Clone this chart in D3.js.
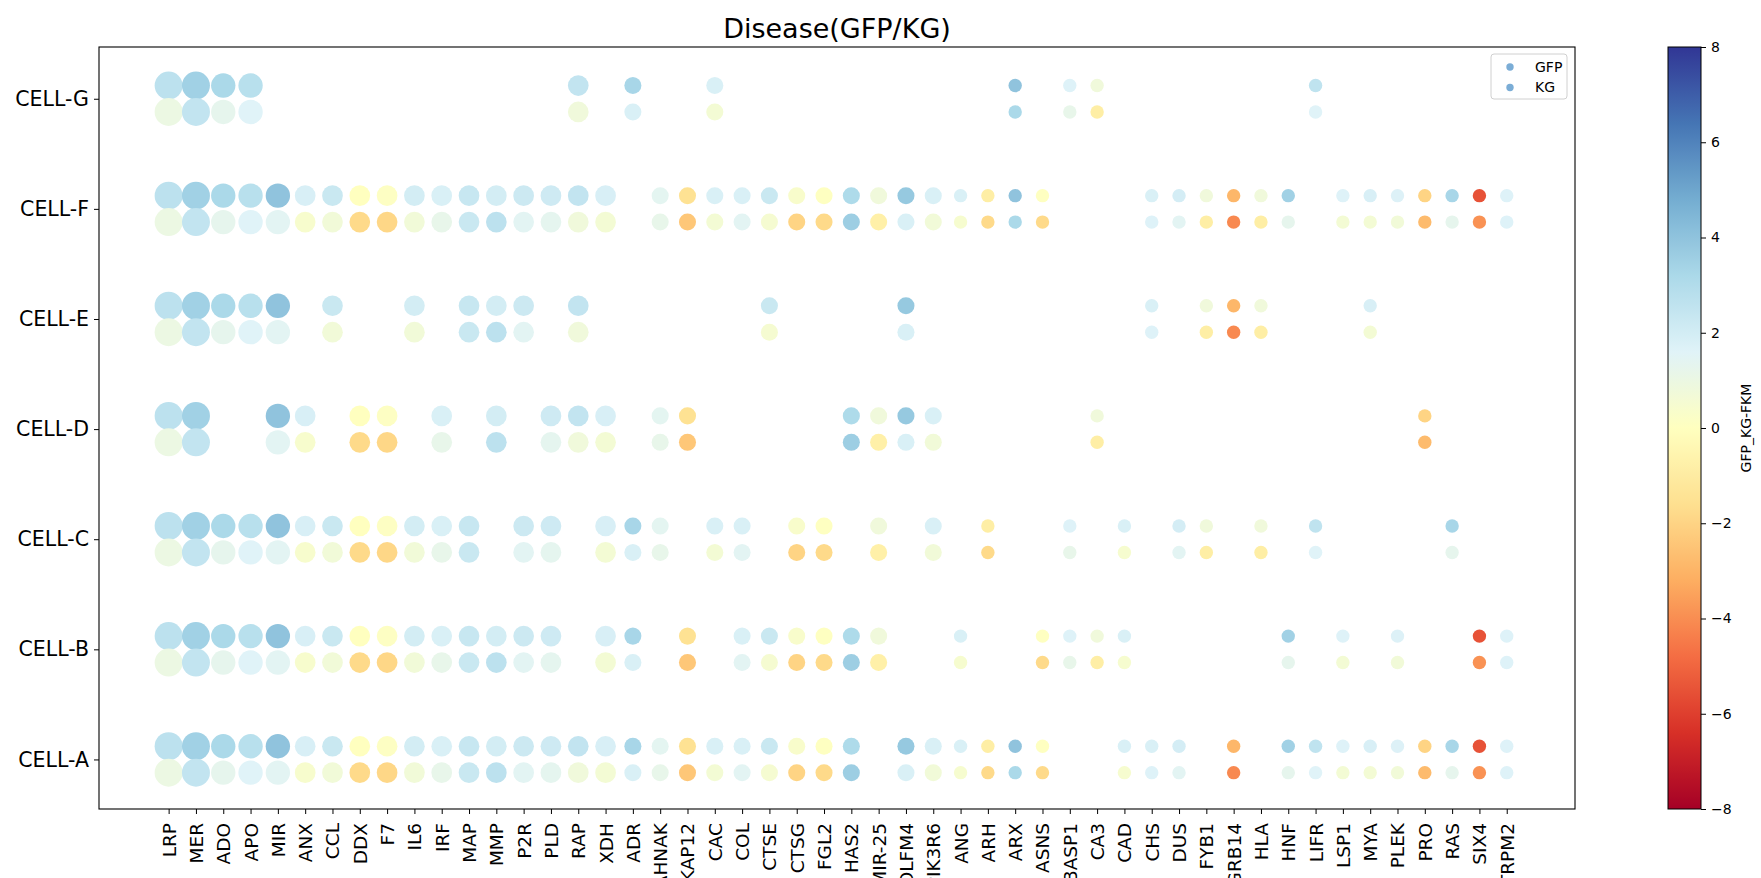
<!DOCTYPE html>
<html>
<head>
<meta charset="utf-8">
<script src="https://cdn.jsdelivr.net/npm/d3@7"></script>
<style>
  body { margin: 0; background: #fff; }
  svg { display: block; font-family: "DejaVu Sans", sans-serif; }
</style>
</head>
<body>
<svg id="chart" width="1761" height="878"></svg>
<script>
const genes = ["LRP", "MER", "ADO", "APO", "MIR", "ANX", "CCL", "DDX", "F7", "IL6",
  "IRF", "MAP", "MMP", "P2R", "PLD", "RAP", "XDH", "ADR", "AHNAK", "AKAP12",
  "CAC", "COL", "CTSE", "CTSG", "FGL2", "HAS2", "MIR-25", "OLFM4", "PIK3R6", "ANG",
  "ARH", "ARX", "ASNS", "BASP1", "CA3", "CAD", "CHS", "DUS", "FYB1", "GRB14",
  "HLA", "HNF", "LIFR", "LSP1", "MYA", "PLEK", "PRO", "RAS", "SIX4", "TRPM2"];
const cells = ["CELL-A", "CELL-B", "CELL-C", "CELL-D", "CELL-E", "CELL-F", "CELL-G"];

// GFP_KG-FKM per gene
const gfpValues = [2.7, 3.5, 3.2, 2.8, 4.0, 1.85, 2.3, 0.0, 0.1, 2.0,
  1.8, 2.35, 2.0, 2.2, 2.15, 2.5, 1.85, 3.3, 1.4, -1.5,
  1.8, 1.8, 2.3, 0.35, 0.05, 3.1, 0.8, 3.8, 1.8, 1.8,
  -0.9, 4.0, 0.05, 1.65, 0.8, 1.8, 1.8, 1.95, 0.8, -2.9,
  0.8, 3.5, 2.6, 1.65, 1.85, 1.7, -2.0, 3.3, -5.5, 1.65];
const kgValues = [1.0, 2.5, 1.3, 1.6, 1.45, 0.4, 0.7, -1.8, -1.9, 0.7,
  1.2, 2.3, 2.7, 1.45, 1.35, 0.8, 0.6, 1.8, 1.2, -2.4,
  0.6, 1.45, 0.5, -2.0, -1.8, 3.6, -0.8, 1.8, 0.7, 0.45,
  -1.8, 3.2, -1.8, 1.2, -0.9, 0.45, 1.65, 1.45, -0.9, -4.1,
  -0.9, 1.3, 1.6, 0.6, 0.6, 0.7, -2.8, 1.3, -3.9, 1.65];
// marker weight per gene
const geneWeight = [5, 5, 4, 4, 4, 3, 3, 3, 3, 3,
  3, 3, 3, 3, 3, 3, 3, 2, 2, 2,
  2, 2, 2, 2, 2, 2, 2, 2, 2, 1,
  1, 1, 1, 1, 1, 1, 1, 1, 1, 1,
  1, 1, 1, 1, 1, 1, 1, 1, 1, 1];
// genes found in each cell (indices into genes)
const cellGenes = [
  [0,1,2,3,4,5,6,7,8,9,10,11,12,13,14,15,16,17,18,19,20,21,22,23,24,25,27,28,29,30,31,32,35,36,37,39,41,42,43,44,45,46,47,48,49],
  [0,1,2,3,4,5,6,7,8,9,10,11,12,13,14,16,17,19,21,22,23,24,25,26,29,32,33,34,35,41,43,45,48,49],
  [0,1,2,3,4,5,6,7,8,9,10,11,13,14,16,17,18,20,21,23,24,26,28,30,33,35,37,38,40,42,47],
  [0,1,4,5,7,8,10,12,14,15,16,18,19,25,26,27,28,34,46],
  [0,1,2,3,4,6,9,11,12,13,15,22,27,36,38,39,40,44],
  [0,1,2,3,4,5,6,7,8,9,10,11,12,13,14,15,16,18,19,20,21,22,23,24,25,26,27,28,29,30,31,32,36,37,38,39,40,41,43,44,45,46,47,48,49],
  [0,1,2,3,15,17,20,31,33,34,42]
];
const cbarTicks = [-8, -6, -4, -2, 0, 2, 4, 6, 8];
const rdylbu = ["#a50026", "#d73027", "#f46d43", "#fdae61", "#fee090", "#ffffbf",
  "#e0f3f8", "#abd9e9", "#74add1", "#4575b4", "#313695"];

const svg = d3.select("#chart");
const plot = { left: 99, right: 1575, top: 47, bottom: 809 };

const x = d3.scaleLinear().domain([-2.55, 51.5]).range([plot.left, plot.right]);
const y = d3.scaleLinear().domain([-0.45, 6.47]).range([plot.bottom, plot.top]);
const color = d3.scaleLinear()
  .domain(rdylbu.map((c, i) => -8 + i * 1.6))
  .range(rdylbu)
  .clamp(true);
const radius = d3.scaleLinear().domain([1, 5]).range([6.7, 14]);

// points, GFP drawn first then KG like the original
let gfpPts = [], kgPts = [];
cellGenes.forEach((list, ci) => {
  list.forEach(gi => {
    gfpPts.push({ gi: gi, ci: ci, off: 0.12, v: gfpValues[gi] });
    kgPts.push({ gi: gi, ci: ci, off: -0.12, v: kgValues[gi] });
  });
});

const marks = svg.append("g");
[gfpPts, kgPts].forEach(pts => {
  marks.append("g")
    .selectAll("circle")
    .data(pts)
    .join("circle")
    .attr("cx", d => x(d.gi))
    .attr("cy", d => y(d.ci + d.off))
    .attr("r", d => radius(geneWeight[d.gi]))
    .attr("fill", d => color(d.v));
});

// x axis
const xAxis = svg.append("g")
  .attr("transform", `translate(0,${plot.bottom})`)
  .call(d3.axisBottom(x)
    .tickValues(d3.range(genes.length))
    .tickFormat(i => genes[i])
    .tickSize(5)
    .tickSizeOuter(0));
xAxis.select(".domain").remove();
xAxis.selectAll("text")
  .attr("transform", "rotate(-90)")
  .attr("x", -14)
  .attr("y", 0)
  .attr("dy", "0.35em")
  .style("text-anchor", "end")
  .style("font-size", "18.5px")
  .style("font-family", "DejaVu Sans")
  .style("fill", "#000");
xAxis.selectAll("line").attr("stroke", "#000");

// y axis
const yAxis = svg.append("g")
  .attr("transform", `translate(${plot.left},0)`)
  .call(d3.axisLeft(y)
    .tickValues(d3.range(cells.length))
    .tickFormat(i => cells[i])
    .tickSize(5)
    .tickPadding(5)
    .tickSizeOuter(0));
yAxis.select(".domain").remove();
yAxis.selectAll("text")
  .style("font-size", "20.5px")
  .style("font-family", "DejaVu Sans")
  .style("fill", "#000");
yAxis.selectAll("line").attr("stroke", "#000");

// frame
svg.append("rect")
  .attr("x", plot.left)
  .attr("y", plot.top)
  .attr("width", plot.right - plot.left)
  .attr("height", plot.bottom - plot.top)
  .attr("fill", "none")
  .attr("stroke", "#000")
  .attr("stroke-width", 1.1);

// title
svg.append("text")
  .attr("x", (plot.left + plot.right) / 2)
  .attr("y", 38)
  .attr("text-anchor", "middle")
  .style("font-size", "27px")
  .style("fill", "#000")
  .text("Disease(GFP/KG)");

// legend
const legend = svg.append("g");
legend.append("rect")
  .attr("x", 1491)
  .attr("y", 54)
  .attr("width", 76)
  .attr("height", 45)
  .attr("rx", 3)
  .attr("fill", "#fff")
  .attr("fill-opacity", 0.8)
  .attr("stroke", "#d0d0d0");
["GFP", "KG"].forEach((name, i) => {
  legend.append("circle")
    .attr("cx", 1510)
    .attr("cy", 67 + i * 20.5)
    .attr("r", 3.7)
    .attr("fill", "#7badd6");
  legend.append("text")
    .attr("x", 1535)
    .attr("y", 67 + i * 20.5)
    .attr("dy", "0.35em")
    .style("font-size", "14px")
    .style("fill", "#000")
    .text(name);
});

// colorbar
const cb = { left: 1668, width: 33, top: 47, bottom: 809 };
const cbScale = d3.scaleLinear().domain([-8, 8]).range([cb.bottom, cb.top]);
const grad = svg.append("defs").append("linearGradient")
  .attr("id", "cbgrad")
  .attr("x1", 0).attr("y1", 1).attr("x2", 0).attr("y2", 0);
d3.range(0, 1.0001, 0.02).forEach(t => {
  grad.append("stop")
    .attr("offset", t)
    .attr("stop-color", color(-8 + 16 * t));
});
svg.append("rect")
  .attr("x", cb.left)
  .attr("y", cb.top)
  .attr("width", cb.width)
  .attr("height", cb.bottom - cb.top)
  .attr("fill", "url(#cbgrad)")
  .attr("stroke", "#000")
  .attr("stroke-width", 1);
const cbAxis = svg.append("g")
  .attr("transform", `translate(${cb.left + cb.width},0)`)
  .call(d3.axisRight(cbScale)
    .tickValues(cbarTicks)
    .tickSize(5)
    .tickPadding(5)
    .tickSizeOuter(0));
cbAxis.select(".domain").remove();
cbAxis.selectAll("text")
  .style("font-size", "14px")
  .style("font-family", "DejaVu Sans")
  .style("fill", "#000");
cbAxis.selectAll("line").attr("stroke", "#000");

svg.append("text")
  .attr("transform", `translate(1751,${(cb.top + cb.bottom) / 2}) rotate(-90)`)
  .attr("text-anchor", "middle")
  .style("font-size", "14px")
  .style("fill", "#000")
  .text("GFP_KG-FKM");
</script>
</body>
</html>
